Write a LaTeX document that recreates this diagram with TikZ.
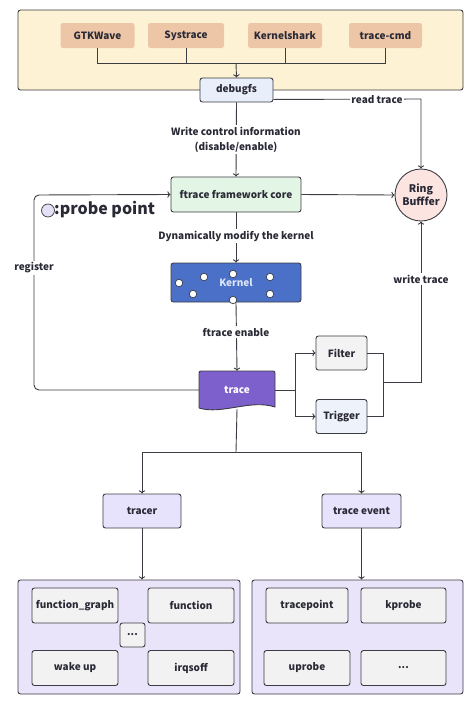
\documentclass[tikz,border=0pt]{standalone}
\usepackage{fontspec}
\setmainfont{Noto Sans CJK SC}
\usetikzlibrary{arrows.meta,calc}
\definecolor{linec}{HTML}{3C3C44}
\definecolor{textc}{HTML}{2A2A36}
\definecolor{frameY}{HTML}{FDF2D3}
\definecolor{toolF}{HTML}{EDC6A8}
\definecolor{dbgF}{HTML}{E8EFFA}
\definecolor{coreF}{HTML}{E3F5E5}
\definecolor{ringF}{HTML}{FCE4E1}
\definecolor{kernF}{HTML}{4A70C7}
\definecolor{kernT}{HTML}{DCE6F8}
\definecolor{traceF}{HTML}{7E60CC}
\definecolor{filtF}{HTML}{F3F3F3}
\definecolor{trigF}{HTML}{EEF2FB}
\definecolor{lavF}{HTML}{E8E3FC}
\definecolor{grpF}{HTML}{EAE4FB}
\definecolor{innF}{HTML}{F2F2F2}
\definecolor{probeF}{HTML}{E4E0F8}
\tikzset{
  base/.style={font=\fontsize{10}{12}\selectfont\bfseries, text=textc, inner sep=0pt},
  box/.style={base, draw=linec, line width=0.9pt, rounded corners=2.5pt},
  tool/.style={base, fill=toolF, rounded corners=2.5pt, minimum width=74pt, minimum height=25pt},
  ln/.style={draw=linec, line width=0.9pt},
  arr/.style={ln, -{To[length=3.2pt,width=6.5pt]}},
  lbl/.style={base, fill=white, inner sep=1.5pt},
  inner/.style={box, fill=innF, minimum width=86pt, minimum height=35pt},
  dot/.style={circle, draw=linec, line width=0.7pt, fill=white, minimum size=7.5pt, inner sep=0pt},
}
\begin{document}
\begin{tikzpicture}[x=1pt,y=-1pt]
\useasboundingbox (0,0) rectangle (474,705);
% top frame
\node[box, fill=frameY, minimum width=445pt, minimum height=80pt] (frame) at (240.5,50) {};
\node[tool] (gtk) at (97.5,35.5) {GTKWave};
\node[tool, minimum width=76pt] (sys) at (186,35.5) {Systrace};
\node[tool] (ksh) at (285,35.5) {Kernelshark};
\node[tool, minimum width=73pt] (tcmd) at (385.5,35.5) {trace-cmd};
\coordinate (bus) at (236,63);
\node[box, fill=dbgF, minimum width=73pt, minimum height=24pt] (dbg) at (236.5,90) {debugfs};
\draw[ln] (gtk.south) |- (bus);
\draw[ln] (tcmd.south) |- (bus);
\draw[ln] (sys.south) -- (sys.south |- bus);
\draw[ln] (ksh.south) -- (ksh.south |- bus);
\draw[arr] (bus) -- (dbg.north);
% core and ring
\node[box, fill=coreF, minimum width=130pt, minimum height=35pt] (core) at (236,194.5) {ftrace framework core};
\node[base, draw=linec, line width=0.9pt, circle, fill=ringF, minimum size=52pt, align=center, font=\fontsize{10.5}{13}\selectfont\bfseries] (ring) at (421,195) {Ring\\Bufffer};
\draw[arr] (dbg.south) -- (core.north);
\node[lbl, align=center, font=\fontsize{10}{15}\selectfont\bfseries] (wci) at (236,139.5) {Write control information\\(disable/enable)};
\coordinate (rtc) at (421,99);
\draw[arr] ([yshift=3pt]dbg.south east) -- (rtc) -- (ring.north);
\node[lbl] (rt) at (377,100) {read trace};
\draw[arr] (core.east) -- (ring.west);
% kernel
\node[box, fill=kernF, minimum width=130pt, minimum height=39pt, text=kernT] (kern) at (236,282.5) {Kernel};
\draw[arr] (core.south) -- (kern.north);
\node[lbl] (dmk) at (236,236) {Dynamically modify the kernel};
\foreach \i/\x/\y in {1/179/283, 2/204/277, 3/233/274, 4/270/277, 5/193/294, 6/233/300, 7/270/294}
  \node[dot] (pp\i) at (\x,\y) {};
% legend
\node[dot, fill=probeF, minimum size=13pt] (leg) at (48,210.5) {};
\node[base, anchor=west, font=\fontsize{16}{18}\selectfont\bfseries] (legt) at (54,209.5) {:probe point};
% trace
\node[base, minimum width=76pt, minimum height=38pt, text=white] (trace) at (237,390) {};
\fill[traceF] (199,373) -- (199,408) .. controls (222,415) and (250,399) .. (275,407) -- (275,373) [rounded corners=2pt] -- (275,371) -- (199,371) -- cycle;
\draw[ln, rounded corners=2pt] (199,408) -- (199,371) -- (275,371) -- (275,407);
\draw[ln] (199,408) .. controls (222,415) and (250,399) .. (275,407);
\node[base, text=white] (tracet) at (trace.center) {trace};
\draw[arr] (kern.south) -- (trace.north);
\node[lbl] (fte) at (236,332) {ftrace enable};
% register loop
\coordinate (regc) at (34,195);
\draw[arr, rounded corners=5pt] (trace.west) -| (regc) -- (core.west);
\node[lbl] (reg) at (34,268) {register};
% filter trigger
\node[box, fill=filtF, minimum width=51pt, minimum height=34pt] (filt) at (341.5,353) {Filter};
\node[box, fill=trigF, minimum width=51pt, minimum height=34pt] (trig) at (341.5,416.5) {Trigger};
\coordinate (fork) at (295,390);
\draw[ln] (trace.east) -- (fork);
\draw[arr] (fork) |- (filt.west);
\draw[arr] (fork) |- (trig.west);
\coordinate (merge) at (383,382);
\draw[ln] (filt.east) -| (merge);
\draw[ln] (trig.east) -| (merge);
\draw[arr] (merge) -| (ring.south);
\node[lbl] (wt) at (421,279) {write trace};
% tracer and trace event
\node[box, fill=lavF, minimum width=78pt, minimum height=34pt] (tracer) at (142,511) {tracer};
\node[box, fill=lavF, minimum width=79pt, minimum height=34pt] (tev) at (361.5,511) {trace event};
\coordinate (split) at (236,452);
\draw[ln] (trace.south) -- (split);
\draw[arr] (split) -| (tracer.north);
\draw[arr] (split) -| (tev.north);
% groups
\node[box, fill=grpF, minimum width=222pt, minimum height=114pt] (gl) at (129,637) {};
\node[box, fill=grpF, minimum width=211pt, minimum height=114pt] (gr) at (357.5,637) {};
\draw[arr] (tracer.south) -- (gl.north -| tracer.south);
\draw[arr] (tev.south) -- (gr.north -| tev.south);
\node[inner] (fg) at (75,605.5) {function\_graph};
\node[inner] (fn) at (191,605.5) {function};
\node[inner, minimum width=25pt, minimum height=24pt] (dl) at (132.5,635) {...};
\node[inner] (wu) at (75,668) {wake up};
\node[inner] (irq) at (191,668) {irqsoff};
\node[inner, minimum width=82pt] (tp) at (307,605.5) {tracepoint};
\node[inner, minimum width=85pt] (kp) at (403.5,605.5) {kprobe};
\node[inner] (up) at (307,668) {uprobe};
\node[inner, minimum width=85pt] (dr) at (403.5,668) {...};
\end{tikzpicture}
\end{document}
